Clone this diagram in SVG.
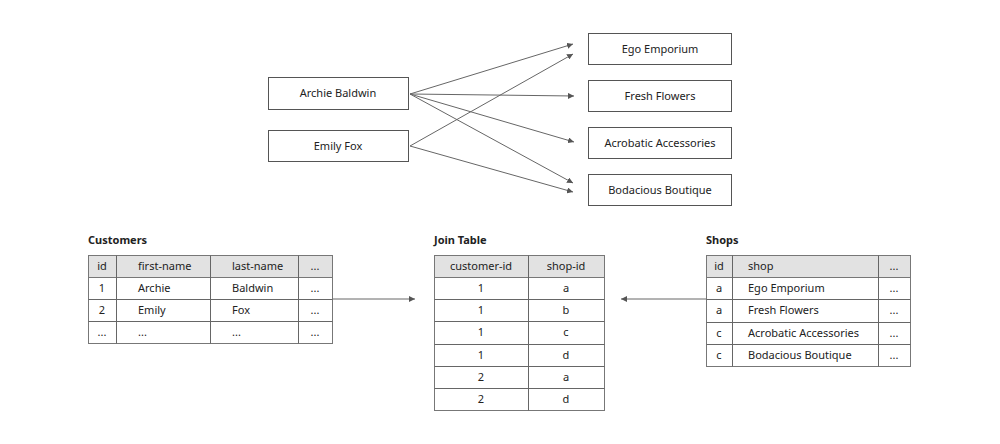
<svg xmlns="http://www.w3.org/2000/svg" width="1000" height="444" viewBox="0 0 1000 444">
<style>
text{font-family:"Noto Sans","Liberation Sans",sans-serif;font-size:11px;fill:#222}
.c{text-anchor:middle}
.t{font-weight:bold;font-size:11px}
.box{fill:#fff;stroke:#555;stroke-width:1}
.hd{fill:#e2e2e2;stroke:#777;stroke-width:1}
.cell{fill:#fff;stroke:#777;stroke-width:1}
.ln{stroke:#666;stroke-width:1;fill:none}
</style>
<defs><marker id="a" viewBox="0 0 6 6" refX="6" refY="3" markerWidth="6" markerHeight="6" orient="auto"><path d="M0,0 L6,3 L0,6 z" fill="#555"/></marker></defs>
<rect width="1000" height="444" fill="#fff"/>
<g id="connectors">
<line class="ln" x1="410" y1="94" x2="573" y2="44" marker-end="url(#a)"/>
<line class="ln" x1="410" y1="94" x2="574" y2="96" marker-end="url(#a)"/>
<line class="ln" x1="410" y1="94" x2="574" y2="142" marker-end="url(#a)"/>
<line class="ln" x1="410" y1="94" x2="573" y2="183" marker-end="url(#a)"/>
<line class="ln" x1="410" y1="146" x2="573" y2="54" marker-end="url(#a)"/>
<line class="ln" x1="410" y1="146" x2="573" y2="192" marker-end="url(#a)"/>
<line class="ln" x1="332" y1="299" x2="415" y2="299" marker-end="url(#a)"/>
<line class="ln" x1="706" y1="299" x2="621" y2="299" marker-end="url(#a)"/>
</g>
<g id="archie"><rect class="box" x="268.5" y="77.5" width="140" height="32"/><text class="c" x="338" y="97">Archie Baldwin</text></g>
<g id="emily"><rect class="box" x="268.5" y="130.5" width="140" height="31"/><text class="c" x="338" y="150">Emily Fox</text></g>
<g id="ego"><rect class="box" x="588.5" y="33.5" width="143" height="31"/><text class="c" x="660" y="53">Ego Emporium</text></g>
<g id="fresh"><rect class="box" x="588.5" y="80.5" width="143" height="31"/><text class="c" x="660" y="100">Fresh Flowers</text></g>
<g id="acro"><rect class="box" x="588.5" y="127.5" width="143" height="31"/><text class="c" x="660" y="147">Acrobatic Accessories</text></g>
<g id="boda"><rect class="box" x="588.5" y="174.5" width="143" height="31"/><text class="c" x="660" y="194">Bodacious Boutique</text></g>
<g id="customers">
<text class="t" x="88" y="244">Customers</text>
<rect class="hd" x="88.5" y="255.5" width="244" height="22"/>
<rect class="cell" x="88.5" y="277.5" width="244" height="66"/>
<path class="ln" d="M88.5,299.5H332.5M88.5,321.5H332.5M116.5,255.5V343.5M210.5,255.5V343.5M298.5,255.5V343.5"/>
<g class="c"><text x="102" y="270">id</text><text x="102" y="292">1</text><text x="102" y="314">2</text><text x="102" y="336">...</text>
<text x="315" y="270">...</text><text x="315" y="292">...</text><text x="315" y="314">...</text><text x="315" y="336">...</text></g>
<text x="138" y="270">first-name</text><text x="138" y="292">Archie</text><text x="138" y="314">Emily</text><text x="138" y="336">...</text>
<text x="232" y="270">last-name</text><text x="232" y="292">Baldwin</text><text x="232" y="314">Fox</text><text x="232" y="336">...</text>
</g>
<g id="join">
<text class="t" x="434" y="244">Join Table</text>
<rect class="hd" x="434.5" y="255.5" width="170" height="22"/>
<rect class="cell" x="434.5" y="277.5" width="170" height="133"/>
<path class="ln" d="M434.5,299.5H604.5M434.5,321.5H604.5M434.5,344.5H604.5M434.5,366.5H604.5M434.5,388.5H604.5M528.5,255.5V410.5"/>
<g class="c"><text x="481" y="270">customer-id</text><text x="566" y="270">shop-id</text>
<text x="481" y="292">1</text><text x="566" y="292">a</text>
<text x="481" y="314">1</text><text x="566" y="314">b</text>
<text x="481" y="336">1</text><text x="566" y="336">c</text>
<text x="481" y="359">1</text><text x="566" y="359">d</text>
<text x="481" y="381">2</text><text x="566" y="381">a</text>
<text x="481" y="403">2</text><text x="566" y="403">d</text></g>
</g>
<g id="shops">
<text class="t" x="706" y="244">Shops</text>
<rect class="hd" x="706.5" y="255.5" width="204" height="22"/>
<rect class="cell" x="706.5" y="277.5" width="204" height="89"/>
<path class="ln" d="M706.5,299.5H910.5M706.5,322.5H910.5M706.5,344.5H910.5M732.5,255.5V366.5M878.5,255.5V366.5"/>
<g class="c"><text x="719" y="270">id</text><text x="719" y="292">a</text><text x="719" y="314">a</text><text x="719" y="337">c</text><text x="719" y="359">c</text>
<text x="894" y="270">...</text><text x="894" y="292">...</text><text x="894" y="314">...</text><text x="894" y="337">...</text><text x="894" y="359">...</text></g>
<text x="748" y="270">shop</text><text x="748" y="292">Ego Emporium</text><text x="748" y="314">Fresh Flowers</text><text x="748" y="337">Acrobatic Accessories</text><text x="748" y="359">Bodacious Boutique</text>
</g>
</svg>
